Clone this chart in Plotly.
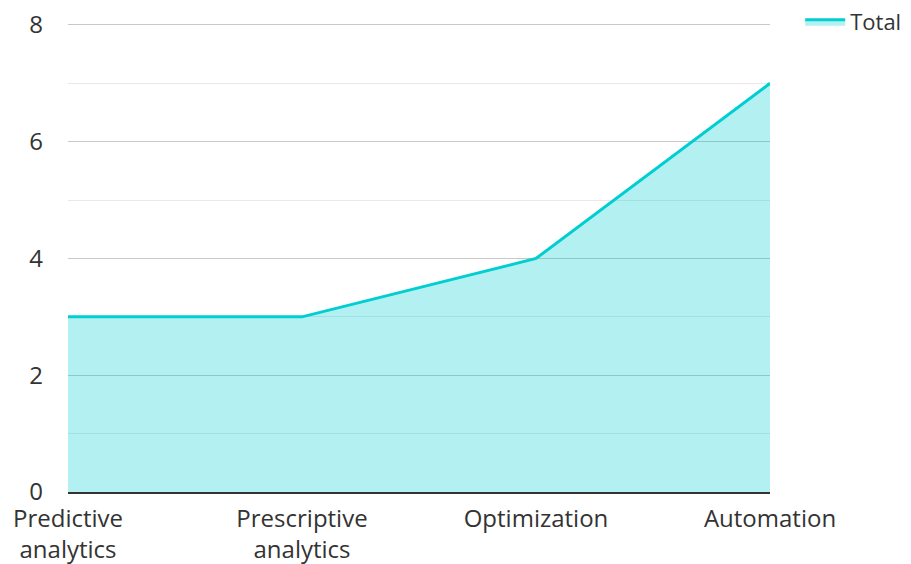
import plotly.graph_objects as go

categories = ["Predictive<br>analytics", "Prescriptive<br>analytics", "Optimization", "Automation"]
totals = [3, 3, 4, 7]
y_ticks = [0, 2, 4, 6, 8]

fig = go.Figure()
fig.add_trace(go.Scatter(
    x=categories, y=totals, name="Total", mode="lines",
    line=dict(color="#00CED1", width=3),
    fill="tozeroy", fillcolor="rgba(0,206,209,0.30)",
))

font = "Open Sans, Noto Sans, sans-serif"
fig.update_layout(
    width=903, height=556,
    margin=dict(l=60, r=141, t=14, b=72, autoexpand=False),
    paper_bgcolor="white", plot_bgcolor="white",
    font=dict(family=font, size=24, color="#333333"),
    showlegend=True,
    legend=dict(x=1.043, y=1.045, xanchor="left", yanchor="top",
                font=dict(size=22, color="#333333"), bgcolor="rgba(0,0,0,0)",
                itemwidth=40),
    xaxis=dict(range=[0, 3], showgrid=False, showline=True, linecolor="#333333",
               linewidth=2, ticks="", tickfont=dict(size=24, color="#333333"),
               zeroline=False, automargin=False, ticklabelstandoff=4,
               ticklabeloverflow="allow"),
    yaxis=dict(range=[0, 8.05], tickvals=y_ticks, showgrid=True, gridcolor="#c8c8c8",
               gridwidth=1, zeroline=False, ticks="", ticklabelstandoff=24,
               tickfont=dict(size=24, color="#333333"), automargin=False,
               ticklabeloverflow="allow",
               minor=dict(dtick=1, showgrid=True, gridcolor="#e8e8e8", gridwidth=1)),
)
fig.write_html("out.html")
